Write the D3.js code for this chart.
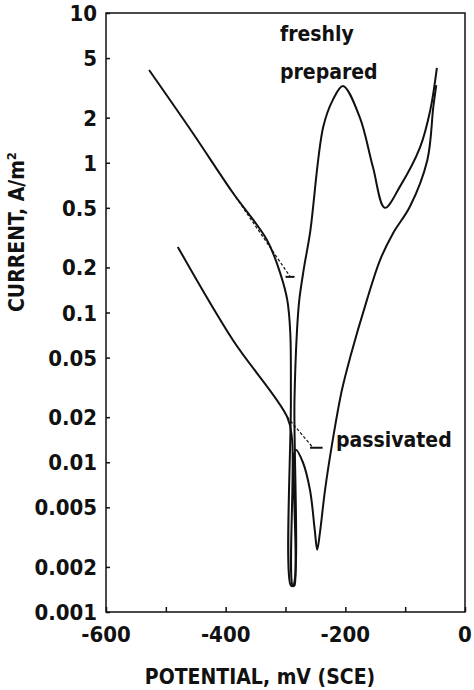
<!DOCTYPE html>
<html>
<head>
<meta charset="UTF-8">
<script src="https://d3js.org/d3.v7.min.js"></script>
<style>
  body { margin: 0; background: #fff; }
  text { font-family: "Liberation Sans Narrow", "DejaVu Sans Condensed", "Liberation Sans", Arial, sans-serif; font-weight: bold; fill: #111; }
</style>
</head>
<body>
<svg id="chart" width="474" height="690"></svg>
<script>
// potential (mV SCE) and current (A/m2)
var freshMv  = [-528,-455,-388,-331,-309,-297,-292,-291,-291,-287,-285,-281,-277,-269,-259,-237,-221,-204,-176,-154,-134,-109,-75,-58,-47];
var freshCur = [4.16,1.58,0.63,0.305,0.184,0.121,0.073,0.026,0.0015,0.0015,0.026,0.073,0.121,0.2,0.34,1.73,2.62,3.26,2.02,0.94,0.50,0.69,1.27,2.25,4.3];
var passMv   = [-480,-388,-297,-289,-288,-285,-283,-271,-259,-251,-247,-242,-234,-221,-206,-192,-164,-142,-120,-92,-63,-53,-48];
var passCur  = [0.274,0.0655,0.020,0.0141,0.0015,0.0015,0.0121,0.010,0.0065,0.0035,0.0026,0.0035,0.0065,0.0141,0.030,0.050,0.121,0.224,0.34,0.51,1.04,2.35,3.3];
// Tafel extrapolations
var freshTafelMv = [-388,-292], freshTafelCur = [0.63,0.173];
var passTafelMv  = [-297,-254], passTafelCur  = [0.020,0.0125];

var xTicks = [-600,-500,-400,-300,-200,-100,0];
var xLabels = [-600,-400,-200,0];
var yTicks = [10,5,2,1,0.5,0.2,0.1,0.05,0.02,0.01,0.005,0.002,0.001];

var svg = d3.select("#chart");
var pLeft = 106, pRight = 465, pTop = 13, pBottom = 612;

var x = d3.scaleLinear().domain([-600,0]).range([pLeft,pRight]);
var y = d3.scaleLog().domain([0.001,10]).range([pBottom,pTop]);

// frame
svg.append("rect").attr("x",pLeft).attr("y",pTop).attr("width",pRight-pLeft).attr("height",pBottom-pTop)
   .attr("fill","none").attr("stroke","#111").attr("stroke-width",1.5);

// x axis (ticks inward)
svg.append("g").attr("transform",`translate(0,${pBottom})`)
   .call(d3.axisTop(x).tickValues(xTicks).tickSize(5).tickFormat(""))
   .call(g => g.select(".domain").remove())
   .selectAll("line").attr("stroke","#111").attr("stroke-width",1.5);
svg.selectAll(".xl").data(xLabels).enter().append("text")
   .attr("x", d => x(d)).attr("y", pBottom+30).attr("text-anchor","middle")
   .attr("font-size",22).text(d => d);

// y axis
svg.append("g").attr("transform",`translate(${pLeft},0)`)
   .call(d3.axisRight(y).tickValues(yTicks).tickSize(4).tickFormat(""))
   .call(g => g.select(".domain").remove())
   .selectAll("line").attr("stroke","#111").attr("stroke-width",1.5);
svg.selectAll(".yl").data(yTicks).enter().append("text")
   .attr("x", pLeft-9).attr("y", d => y(d)+8).attr("text-anchor","end")
   .attr("font-size",22).text(d => String(d));

// titles
svg.append("text").attr("x",260).attr("y",684).attr("text-anchor","middle").attr("font-size",21)
   .text("POTENTIAL, mV (SCE)");
svg.append("text").attr("transform","translate(24,232) rotate(-90)").attr("text-anchor","middle").attr("font-size",21)
   .html('CURRENT, A/m<tspan dy="-8" font-size="13">2</tspan>');

var line = d3.line().x(d => x(d[0])).y(d => y(d[1])).curve(d3.curveCatmullRom.alpha(0.5));
function draw(mv, cur, dash) {
  svg.append("path").datum(d3.zip(mv, cur)).attr("d", dash ? d3.line().x(d => x(d[0])).y(d => y(d[1])) : line)
     .attr("fill","none").attr("stroke","#111").attr("stroke-width", dash ? 1.2 : 2)
     .attr("stroke-dasharray", dash ? "3,2" : null);
}
draw(freshMv, freshCur);
draw(passMv, passCur);
draw(freshTafelMv, freshTafelCur, true);
draw(passTafelMv, passTafelCur, true);
// little end ticks of the Tafel lines
svg.append("line").attr("x1",x(-300)).attr("x2",x(-285)).attr("y1",y(0.173)).attr("y2",y(0.173)).attr("stroke","#111").attr("stroke-width",2);
svg.append("line").attr("x1",x(-259)).attr("x2",x(-238)).attr("y1",y(0.0125)).attr("y2",y(0.0125)).attr("stroke","#111").attr("stroke-width",2);

// annotations
svg.append("text").attr("x",280).attr("y",41).attr("font-size",21).text("freshly");
svg.append("text").attr("x",280).attr("y",79).attr("font-size",21).text("prepared");
svg.append("text").attr("x",336).attr("y",447).attr("font-size",21).text("passivated");
</script>
</body>
</html>
